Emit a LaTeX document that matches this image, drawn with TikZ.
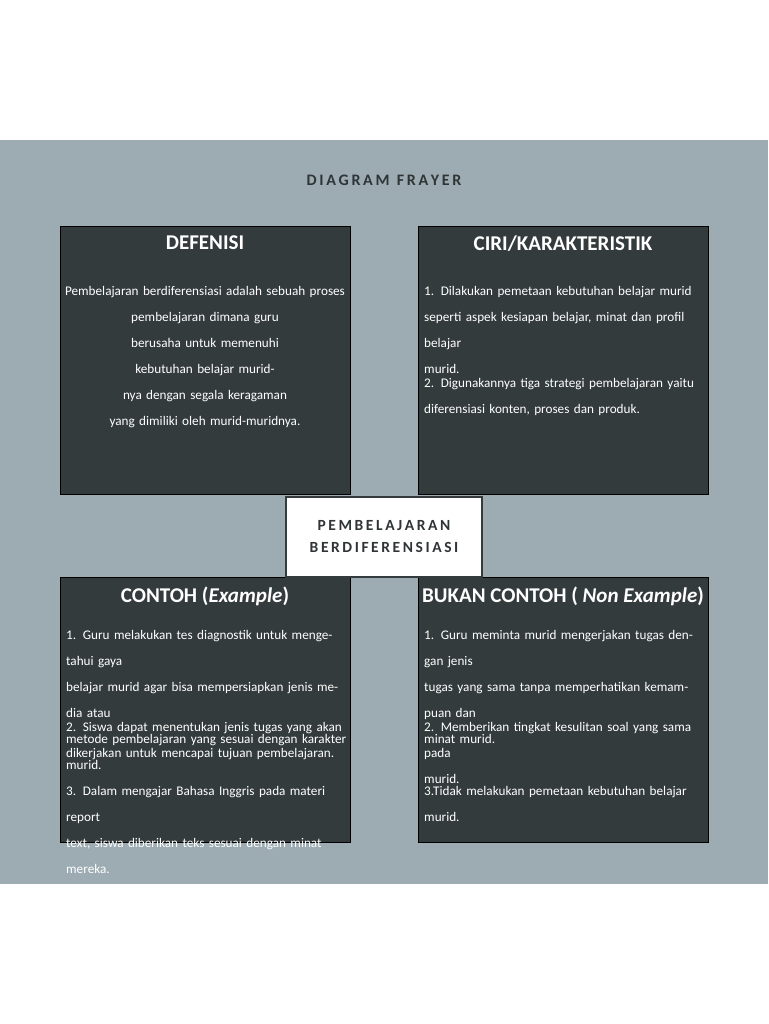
\documentclass[tikz,border=0pt]{standalone}
\usepackage{fontspec}
\setmainfont{Carlito}
\definecolor{bgband}{HTML}{9DACB2}
\definecolor{boxdark}{HTML}{343B3D}
\definecolor{titlec}{HTML}{2F3537}
\begin{document}
\begin{tikzpicture}[x=1pt,y=-1pt,
  quad/.style={draw=black,line width=0.6pt,fill=boxdark},
  head/.style={text=white,font=\fontsize{21}{24}\selectfont\bfseries,anchor=north},
  body/.style={text=white,font=\fontsize{13.2}{26}\selectfont,anchor=north west,align=left,text width=282pt,inner sep=0pt},
  bodyc/.style={body,align=center,anchor=north}]
\useasboundingbox (0,0) rectangle (768,1024);
\fill[white] (0,0) rectangle (768,1024);
\fill[bgband] (0,140) rectangle (768,884);
\node[text=titlec,font=\fontsize{16}{18}\selectfont\bfseries] (title) at (384,180) {D\,I\,A\,G\,R\,A\,M\ \ F\,R\,A\,Y\,E\,R};
\draw[quad] (60,226) rectangle (350,494);
\draw[quad] (418,226) rectangle (708,494);
\draw[quad] (60,577) rectangle (350,842);
\draw[quad] (418,577) rectangle (708,842);
\node[draw=boxdark,line width=1.5pt,fill=white,minimum width=196pt,minimum height=80pt,align=center,
  font=\fontsize{15.5}{22}\selectfont\bfseries,text=titlec] (center) at (384,537)
  {P\,E\,M\,B\,E\,L\,A\,J\,A\,R\,A\,N\\B\,E\,R\,D\,I\,F\,E\,R\,E\,N\,S\,I\,A\,S\,I};
\node[head] (h1) at (205,232) {DEFENISI};
\node[head] (h2) at (563,232) {CIRI/KARAKTERISTIK};
\node[head] (h3) at (205,583) {CONTOH (\textit{Example})};
\node[head] (h4) at (563,583) {BUKAN CONTOH ( \textit{Non Example})};
\node[bodyc] (t1) at (205,286) {Pembelajaran berdiferensiasi adalah sebuah proses\\pembelajaran dimana guru berusaha untuk memenuhi\\kebutuhan belajar muridnya dengan segala keragaman\\yang dimiliki oleh murid-muridnya.};
\node[body] (t2) at (424,286) {1. Dilakukan pemetaan kebutuhan belajar murid\\seperti aspek kesiapan belajar, minat dan profil belajar\\murid.};
\node[body] (t2b) at (424,378) {2. Digunakannya tiga strategi pembelajaran yaitu\\diferensiasi konten, proses dan produk.};
\node[body] (t3) at (66,630) {1. Guru melakukan tes diagnostik untuk mengetahui gaya\\belajar murid agar bisa mempersiapkan jenis media atau\\metode pembelajaran yang sesuai dengan karakter murid.};
\node[body] (t3b) at (66,722) {2. Siswa dapat menentukan jenis tugas yang akan\\dikerjakan untuk mencapai tujuan pembelajaran.};
\node[body] (t3c) at (66,786) {3. Dalam mengajar Bahasa Inggris pada materi report\\text, siswa diberikan teks sesuai dengan minat mereka.};
\node[body] (t4) at (424,630) {1. Guru meminta murid mengerjakan tugas dengan jenis\\tugas yang sama tanpa memperhatikan kemampuan dan\\minat murid.};
\node[body] (t4b) at (424,722) {2. Memberikan tingkat kesulitan soal yang sama pada\\murid.};
\node[body] (t4c) at (424,786) {3.Tidak melakukan pemetaan kebutuhan belajar murid.};
\end{tikzpicture}
\end{document}
